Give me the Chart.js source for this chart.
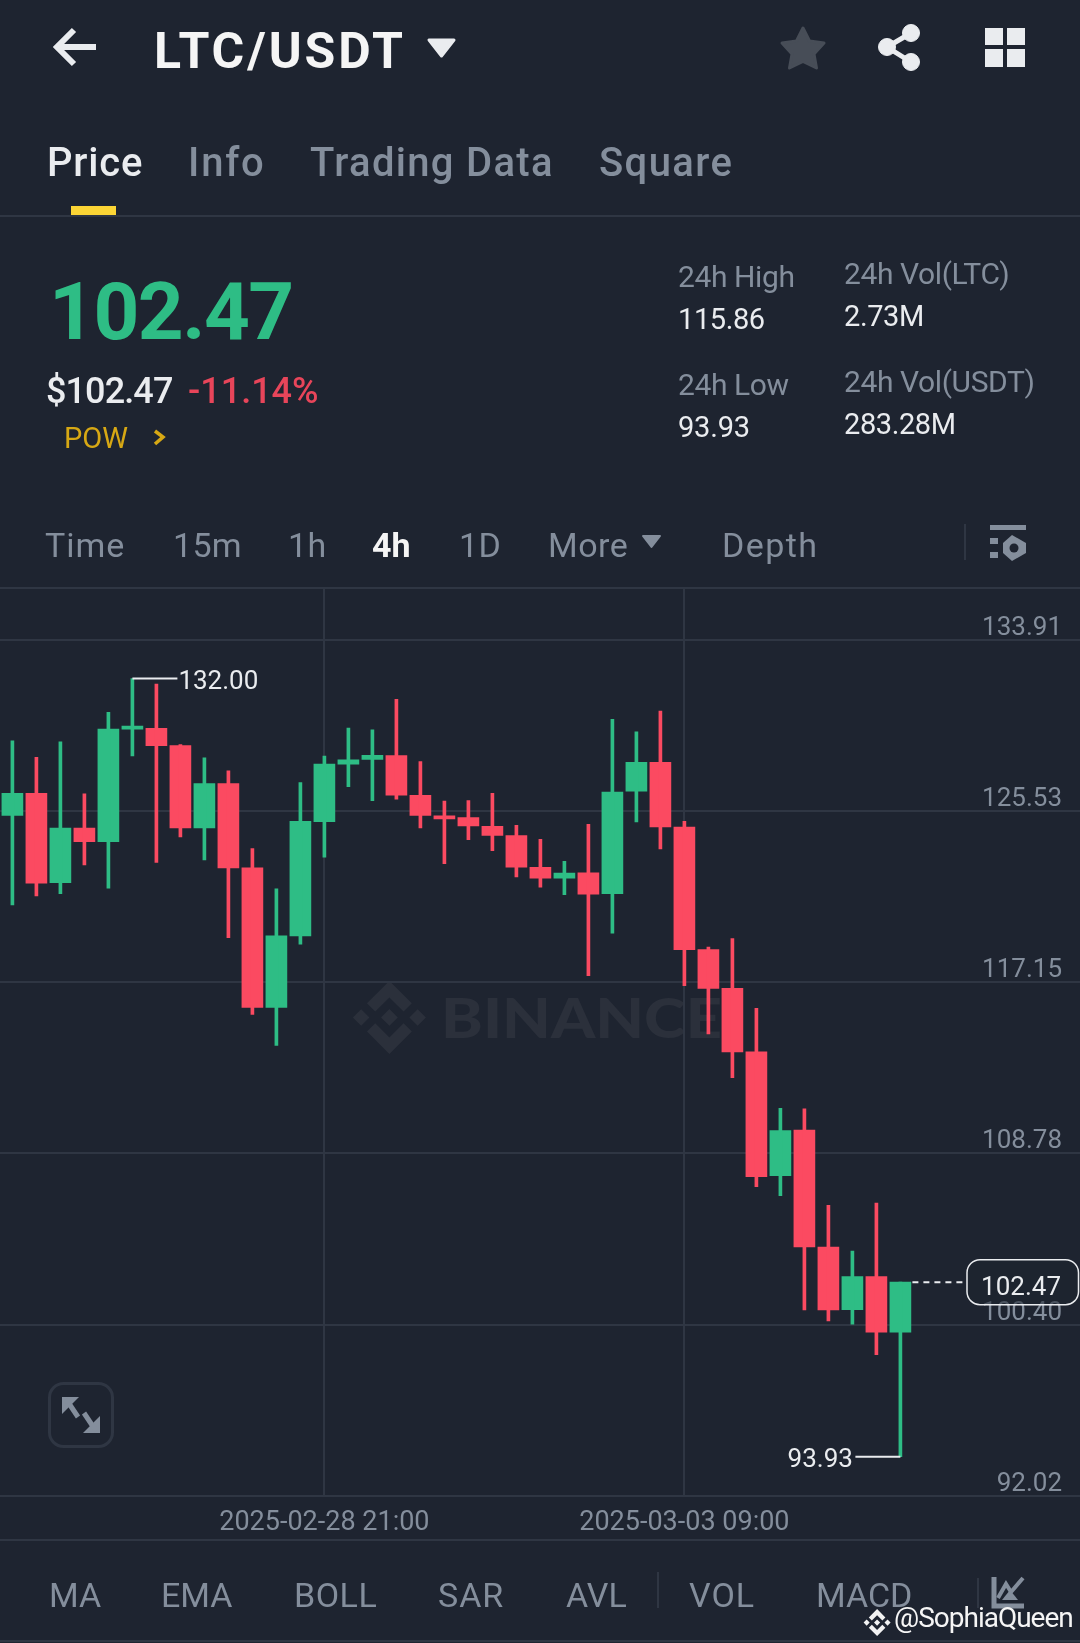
<!DOCTYPE html>
<html><head><meta charset="utf-8"><title>LTC/USDT</title>
<script src="https://cdn.jsdelivr.net/npm/chart.js@4"></script>
<style>
html,body{margin:0;padding:0;width:1080px;height:1643px;background:#1e2430;overflow:hidden;font-family:Roboto,sans-serif}
#c{position:absolute;left:0;top:0;z-index:2}
.t{position:absolute;line-height:1;white-space:nowrap;z-index:3}
.r{position:absolute;z-index:1}
svg{position:absolute;left:0;top:0;z-index:3;overflow:visible}
svg.under{z-index:1}
</style></head><body>
<svg class="under" width="1080" height="1643">
  <g fill="#2b303b">
    <path transform="translate(331,959) scale(3.65)" d="M12.116 14.404L16 10.52l3.886 3.886 2.26-2.26L16 6l-6.144 6.144 2.26 2.26zM6 16l2.26-2.26L10.52 16l-2.26 2.26L6 16zm6.116 1.596L16 21.48l3.886-3.886 2.26 2.259L16 26l-6.144-6.144-.003-.003 2.263-2.257zM21.48 16l2.26-2.26L26 16l-2.26 2.26L21.48 16zm-3.188-.002h.002V16L16 18.294l-2.291-2.29-.004-.004.004-.003.401-.402.195-.195L16 13.706l2.293 2.293z"/>
    <text x="441" y="1038" font-family="Lato,Roboto,sans-serif" font-weight="900" font-size="56" textLength="281" lengthAdjust="spacingAndGlyphs">BINANCE</text>
  </g>
</svg>
<svg width="1080" height="1643">
  <!-- back arrow -->
  <path d="M57 47H96M74 30L57 47L74 64" fill="none" stroke="#eaecef" stroke-width="6"/>
  <!-- caret -->
  <path d="M429 40H454L441.5 56Z" fill="#eaecef" stroke="#eaecef" stroke-width="3" stroke-linejoin="round"/>
  <!-- star -->
  <path d="M803 28L809.5 41L824 43L814 54L816.5 68L803 61.5L789.5 68L792 54L782 43L796.5 41Z" fill="#474d57" stroke="#474d57" stroke-width="3" stroke-linejoin="round"/>
  <!-- share -->
  <g fill="#eaecef" stroke="#eaecef"><circle cx="911" cy="33" r="8.5"/><circle cx="887" cy="47" r="8.5"/><circle cx="911" cy="62" r="8.5"/><path d="M911 33L887 47L911 62" fill="none" stroke-width="5"/></g>
  <!-- grid icon -->
  <g fill="#eaecef"><rect x="985" y="28" width="18" height="17"/><rect x="1007" y="28" width="18" height="17"/><rect x="985" y="49" width="18" height="18"/><rect x="1007" y="49" width="18" height="18"/></g>
  <!-- tab underline -->
  <rect x="71" y="206" width="45" height="9" fill="#fcd535"/>
  <!-- chevron -->
  <path d="M155 431L163 437L155 444" fill="none" stroke="#d7a814" stroke-width="3.5"/>
  <!-- more caret -->
  <path d="M643 536H660L651.5 547Z" fill="#848e9c" stroke="#848e9c" stroke-width="2" stroke-linejoin="round"/>
  <!-- filter icon -->
  <rect x="964" y="524" width="2" height="36" fill="#2f3643"/>
  <g fill="#848e9c"><rect x="990" y="525" width="36" height="5"/><rect x="990" y="538" width="8" height="6"/><rect x="990" y="552" width="8" height="6"/><path d="M1012 535L1026 543V553L1012 561L1003 553V543Z" fill="#848e9c"/><circle cx="1014" cy="548" r="4.5" fill="#1e2430"/></g>
  <!-- expand button -->
  <rect x="49.5" y="1383.5" width="63" height="63" rx="14" fill="none" stroke="#2f3643" stroke-width="3"/>
  <g fill="#848e9c"><path d="M62 1397L79 1397L62 1414Z"/><path d="M100 1433L83 1433L100 1416Z"/><path d="M66 1399L78 1417" stroke="#848e9c" stroke-width="5"/><path d="M96 1431L84 1413" stroke="#848e9c" stroke-width="5"/></g>
  <!-- bottom separators and icon -->
  <rect x="657" y="1572" width="2" height="36" fill="#2f3643"/>
  <rect x="977" y="1578" width="2" height="30" fill="#2f3643"/>
  <path d="M994 1577V1606H1024" fill="none" stroke="#848e9c" stroke-width="5"/>
  <path d="M998 1598L1006 1584L1011 1592L1023 1578" fill="none" stroke="#848e9c" stroke-width="4"/>
  <path d="M1002 1600L1010 1590L1018 1600Z" fill="#848e9c"/>
  <!-- author mark -->
  <path transform="translate(855.5,1601) scale(1.35)" fill="#f2f2f2" d="M12.116 14.404L16 10.52l3.886 3.886 2.26-2.26L16 6l-6.144 6.144 2.26 2.26zM6 16l2.26-2.26L10.52 16l-2.26 2.26L6 16zm6.116 1.596L16 21.48l3.886-3.886 2.26 2.259L16 26l-6.144-6.144-.003-.003 2.263-2.257zM21.48 16l2.26-2.26L26 16l-2.26 2.26L21.48 16zm-3.188-.002h.002V16L16 18.294l-2.291-2.29-.004-.004.004-.003.401-.402.195-.195L16 13.706l2.293 2.293z"/>
</svg>
<div class="r" style="left:0;top:215px;width:1080px;height:2px;background:#2f3643"></div>
<div class="r" style="left:0;top:587px;width:1080px;height:2px;background:#2f3643"></div>
<div class="r" style="left:0;top:1539px;width:1080px;height:2px;background:#2f3643"></div>
<div class="r" style="left:0;top:1640px;width:1080px;height:2px;background:#2f3643"></div>
<canvas id="c" width="1080" height="1643"></canvas>
<script>
// ---- chart data ----
const opens  = [125.31,126.39,122.02,124.69,124.02,129.53,129.57,128.72,124.69,126.86,122.74,115.91,119.41,125.00,127.81,128.05,128.23,126.29,125.28,125.20,124.77,124.32,122.77,122.23,122.49,121.48,126.49,127.90,124.74,118.74,116.84,113.74,107.68,109.91,104.19,101.12,102.75,100.02];
const highs  = [128.95,128.15,128.90,126.36,130.35,132.00,131.73,128.77,128.12,127.48,123.68,121.71,126.91,128.21,129.58,129.49,130.98,127.94,126.00,126.03,126.39,124.82,124.14,123.06,124.87,130.01,129.39,130.41,125.02,118.86,119.28,115.87,110.98,110.95,106.23,103.99,106.34,102.47];
const lows   = [120.93,121.37,121.48,122.88,121.74,128.21,123.01,124.25,123.13,119.33,115.57,114.05,119.00,123.26,126.71,126.03,126.10,124.69,122.95,124.12,123.58,122.30,121.79,121.43,117.47,119.54,124.99,123.67,116.97,114.62,112.48,107.14,106.70,101.11,100.57,100.42,98.92,93.93];
const closes = [126.39,121.99,124.68,124.02,129.53,129.68,128.72,124.69,126.86,122.74,115.91,119.41,125.02,127.82,128.03,128.25,126.29,125.30,125.13,124.79,124.32,122.77,122.23,122.48,121.45,126.45,127.90,124.74,118.74,116.84,113.74,107.63,109.89,104.19,101.11,102.75,100.02,102.47];
const yTickValues = [133.91,125.53,117.15,108.78,100.40,92.02];
const dateLabels = ["2025-02-28 21:00","2025-03-03 09:00"];
const dateCandles = [13,28];
const highMark = {candle:5, value:132.00};
const lowMark = {candle:37, value:93.93};
const lastPrice = 102.47;
const UP = "#2ebd85", DOWN = "#fb4a61", GRID = "#2f3643", AXIS = "#848e9c", WHITE = "#eaecef";

// ---- page text ----
function T(text,x,base,size,color,weight,ls){
  const d=document.createElement("div");d.className="t";d.textContent=text;
  d.style.cssText=`left:${x}px;top:${base-0.841*size}px;font-size:${size}px;color:${color};font-weight:${weight||400};letter-spacing:${ls||0}px`;
  document.body.appendChild(d);
}
T("LTC/USDT",154,68,50,"#f5f5f5",700,2.9);
T("Price",47,177,40,WHITE,500,0.8);
T("Info",188,177,40,AXIS,500,1.8);
T("Trading Data",310,177,40,AXIS,500,1.3);
T("Square",599,177,40,AXIS,500,1.4);
T("102.47",49,339,80,UP,700,-1.5);
T("$102.47",46,403,36,WHITE,500,-0.9);
T("-11.14%",188,403,36,"#e8455a",500);
T("POW",64,448,29,"#d7a814",400);
T("24h High",678,287,30,AXIS,400,-0.4);
T("115.86",678,329,29,WHITE,400,-0.4);
T("24h Vol(LTC)",844,284,30,AXIS,400,-0.4);
T("2.73M",844,326,29,WHITE,400,-0.4);
T("24h Low",678,395,30,AXIS,400,-0.4);
T("93.93",678,437,29,WHITE,400,-0.2);
T("24h Vol(USDT)",844,392,30,AXIS,400,-0.4);
T("283.28M",844,434,29,WHITE,400,-0.4);
T("Time",45,557,34,AXIS,400,1);
T("15m",173,557,34,AXIS,400,0.3);
T("1h",288,557,34,AXIS,400,0.5);
T("4h",372,557,34,"#f5f5f5",700);
T("1D",459,557,34,AXIS,400,0.3);
T("More",548,557,34,AXIS,400,0.5);
T("Depth",722,557,34,AXIS,400,1.4);
T("MA",49,1607,34,AXIS,400);
T("EMA",161,1607,34,AXIS,400);
T("BOLL",294,1607,34,AXIS,400,0.5);
T("SAR",438,1607,34,AXIS,400,1);
T("AVL",566,1607,34,AXIS,400);
T("VOL",689,1607,34,AXIS,400,1);
T("MACD",816,1607,34,AXIS,400);
T("@SophiaQueen",894,1628,28,"#f5f5f5",400,-1);

// ---- chart ----
const idx = opens.map((_,i)=>i);
const wicks = idx.map(i=>({x:i,y:[lows[i],highs[i]]}));
const bodies = idx.map(i=>({x:i,y:[opens[i],closes[i]]}));
const colors = idx.map(i=>closes[i]>opens[i]?UP:DOWN);

const marks = {
  id:"marks",
  afterDatasetsDraw(ch){
    const {ctx,scales:{x,y}}=ch;
    ctx.save();
    ctx.font="26px Roboto";ctx.textBaseline="middle";
    let px=x.getPixelForValue(highMark.candle),py=y.getPixelForValue(highMark.value);
    ctx.strokeStyle=WHITE;ctx.lineWidth=2;
    ctx.beginPath();ctx.moveTo(px,py);ctx.lineTo(px+45,py);ctx.stroke();
    ctx.fillStyle=WHITE;ctx.textAlign="left";
    ctx.fillText(highMark.value.toFixed(2),px+46,py+3.5);
    px=x.getPixelForValue(lowMark.candle);py=y.getPixelForValue(lowMark.value);
    ctx.beginPath();ctx.moveTo(px,py);ctx.lineTo(px-45,py);ctx.stroke();
    ctx.textAlign="right";
    ctx.fillText(lowMark.value.toFixed(2),px-47.5,py+3.5);
    px=x.getPixelForValue(opens.length-1);py=y.getPixelForValue(lastPrice);
    ctx.setLineDash([6,5]);
    ctx.beginPath();ctx.moveTo(px+12,py);ctx.lineTo(966,py);ctx.stroke();
    ctx.setLineDash([]);
    ctx.beginPath();ctx.roundRect(967,py-22.5,111.5,45,13);
    ctx.fillStyle="rgba(30,36,48,0.55)";ctx.fill();
    ctx.lineWidth=1.5;ctx.stroke();
    ctx.fillStyle=WHITE;
    ctx.fillText(lastPrice.toFixed(2),1061,py+6.5);
    ctx.restore();
  }
};

new Chart(document.getElementById("c"),{
  type:"bar",
  data:{datasets:[
    {data:wicks,backgroundColor:colors,barThickness:3,grouped:false,borderSkipped:false,borderWidth:0},
    {data:bodies,backgroundColor:colors,barThickness:21,grouped:false,borderSkipped:false,borderWidth:0}
  ]},
  options:{
    responsive:false,animation:false,devicePixelRatio:1,
    layout:{padding:{top:588,left:0,right:0,bottom:106.3}},
    plugins:{legend:{display:false},tooltip:{enabled:false}},
    scales:{
      x:{type:"linear",offset:false,min:-12.4/24,max:45-12.4/24,
        afterBuildTicks:s=>{s.ticks=dateCandles.map(v=>({value:v}));},
        grid:{offset:false,color:GRID,lineWidth:2,drawTicks:false},border:{display:false},
        ticks:{autoSkip:false,maxRotation:0,padding:11.5,color:AXIS,font:{family:"Roboto",size:27},
          callback:v=>dateLabels[dateCandles.indexOf(v)]},
        afterFit:s=>{s.height=40.9;}},
      y:{type:"linear",position:"right",min:92.02,max:136.43,
        afterBuildTicks:s=>{s.ticks=yTickValues.map(v=>({value:v}));},
        grid:{color:GRID,lineWidth:2,drawTicks:false},border:{display:false},
        afterFit:s=>{s.width=0;},
        ticks:{mirror:true,padding:-18,labelOffset:-11.5,autoSkip:false,color:AXIS,font:{family:"Roboto",size:26},
          callback:v=>v.toFixed(2)}}
    }
  },
  plugins:[marks]
});
</script>
</body></html>
